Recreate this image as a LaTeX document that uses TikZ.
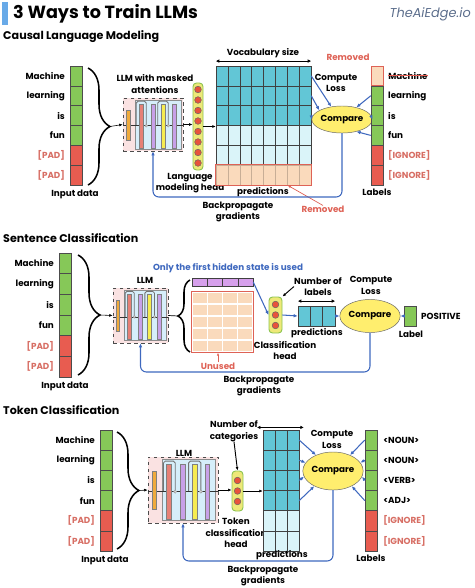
\documentclass[tikz,border=0pt]{standalone}
\usepackage{fontspec}
\setmainfont{Poppins}
\usepackage{tikz}
\usetikzlibrary{positioning,shapes.geometric,arrows.meta,decorations.pathreplacing}

\definecolor{cgreen}{RGB}{134,200,88}
\definecolor{cred}{RGB}{232,92,80}
\definecolor{cpadtxt}{RGB}{215,110,100}
\definecolor{ccyan}{RGB}{98,198,214}
\definecolor{clcyan}{RGB}{218,244,249}
\definecolor{cpeach}{RGB}{250,218,188}
\definecolor{cpeachline}{RGB}{222,98,86}
\definecolor{cpurple}{RGB}{214,160,236}
\definecolor{cyellow}{RGB}{255,238,110}
\definecolor{cblue}{RGB}{62,104,190}
\definecolor{cpink}{RGB}{250,226,226}
\definecolor{cinner}{RGB}{214,238,250}
\definecolor{cbarorange}{RGB}{240,170,60}
\definecolor{cbarred}{RGB}{230,128,118}
\definecolor{cbarpurple}{RGB}{200,160,232}
\definecolor{cbaryellow}{RGB}{246,236,80}
\definecolor{chead}{RGB}{238,232,120}
\definecolor{cheadline}{RGB}{140,196,80}
\definecolor{cneuron}{RGB}{232,82,60}
\definecolor{ctitlebar}{RGB}{104,170,232}
\definecolor{cbrand}{RGB}{92,110,140}

% inside of an LLM block, drawn in a 60 x 53 box
\newcommand{\llminside}{%
  \draw[draw=black!45,fill=cinner] (12,2) rectangle (58,51);
  \draw[draw=black!55,line width=0.7pt,rounded corners=1.5pt] (13.5,28) -- (13.5,3.5) -- (23.5,3.5) -- (23.5,28);
  \draw[draw=black!55,line width=0.7pt,rounded corners=1.5pt] (35,28) -- (35,3.5) -- (45.5,3.5) -- (45.5,28);
  \draw[black!80,line width=0.5pt] (0,28) -- (60,28);
  \draw[fill=cbarorange,draw=black!50] (3.5,12) rectangle (7.5,42);
  \draw[fill=cbarred,draw=black!50] (16,6) rectangle (20,50);
  \draw[fill=cbarpurple,draw=black!50] (28,6) rectangle (32,50);
  \draw[fill=cbaryellow,draw=black!50] (38,6) rectangle (42,50);
  \draw[fill=cbarpurple,draw=black!50] (49,6) rectangle (53,50);
  \filldraw[fill=black!15,draw=black!40] (23.5,28) circle (1.3);
  \filldraw[fill=black!15,draw=black!40] (45.5,28) circle (1.3);
}

\begin{document}
\begin{tikzpicture}[x=0.03cm,y=-0.03cm,
    every node/.style={font=\bfseries\fontsize{7.5}{10}\selectfont,inner sep=0pt},
    tokg/.style={rectangle,draw=black!70,fill=cgreen,minimum width=0.36cm,minimum height=0.6cm},
    tokr/.style={tokg,fill=cred},
    tokrm/.style={tokg,fill=cpeach,draw=cpeachline,line width=0.8pt},
    word/.style={anchor=east},
    padword/.style={anchor=east,text=cpadtxt},
    lword/.style={anchor=west},
    lpad/.style={anchor=west,text=cpadtxt},
    cell/.style={rectangle,draw=black!75,minimum width=0.356cm,minimum height=0.595cm},
    llmbox/.style={rectangle,draw=black!70,dashed,fill=cpink},
    headbox/.style={rectangle,rounded corners=3pt,draw=cheadline,line width=0.8pt,fill=chead},
    neuron/.style={circle,draw=black!60,fill=cneuron,minimum size=0.2cm},
    cmpnode/.style={ellipse,draw=black!60,fill=cyellow},
    flow/.style={-{Latex[length=3pt,width=2.5pt]},line width=0.5pt},
    dbl/.style={{Latex[length=3pt,width=3pt]}-{Latex[length=3pt,width=3pt]},line width=0.7pt},
    bluearrow/.style={-{Latex[length=3.5pt,width=3pt]},draw=cblue,line width=0.9pt},
    backarrow/.style={bluearrow,rounded corners=5pt},
    curly/.style={decorate,decoration={brace,amplitude=0.66cm},line width=1.3pt},
    heading/.style={anchor=west,font=\bfseries\fontsize{9.5}{11}\selectfont}
  ]
\useasboundingbox (0,0) rectangle (474,588);

% title
\node[fill=ctitlebar,minimum width=0.18cm,minimum height=0.66cm] (bar) at (5,13.5) {};
\node[anchor=west,font=\bfseries\fontsize{15}{18}\selectfont] (title) at (13,13.5) {3 Ways to Train LLMs};
\node[anchor=east,text=cbrand,font=\itshape\fontsize{11}{13}\selectfont] (brand) at (471,14) {TheAiEdge.io};

%%%%%%%% Causal Language Modeling
\node[heading] (h1) at (3,37) {Causal Language Modeling};
\foreach \i/\st in {1/tokg,2/tokg,3/tokg,4/tokg,5/tokr,6/tokr}
  \node[\st,minimum height=0.595cm] (a\i) at (76,{66+19.83*(\i-0.5)}) {};
\foreach \i/\w/\st in {1/Machine/word,2/learning/word,3/is/word,4/fun/word,5/[PAD]/padword,6/[PAD]/padword}
  \node[\st] (aw\i) at ([xshift=-4pt]a\i.west) {\w};
\node (ain) at (75,194) {Input data};
\draw[curly] (88,68) -- (88,185);
\coordinate (atip) at (110,126.5);

\node[llmbox,minimum width=1.8cm,minimum height=1.59cm] (llm1) at (153,124.5) {};
\begin{scope}[shift={(llm1.north west)}]
  \llminside
\end{scope}
\node[align=center] (llmlab1) at (155,84) {LLM with masked\\attentions};
\draw[flow] (atip) -- (llm1.west);

\node[headbox,minimum width=0.3cm,minimum height=2.61cm] (hd1) at (198,126.5) {};
\foreach \i in {1,...,8}
  \node[neuron] (hn1\i) at (198,{89.5+10.5*(\i-1)}) {};
\node[align=center] (hdlab1) at (190,183) {Language\\modeling head};

\foreach \r/\col/\ln in {1/ccyan/black!75,2/ccyan/black!75,3/ccyan/black!75,4/clcyan/black!75,5/clcyan/black!75,6/cpeach/cpeach!80!black}
  \foreach \c in {1,...,8}
  {
    \pgfmathtruncatemacro{\cellid}{\r*10+\c}
    \node[cell,fill=\col,draw=\ln] (v\cellid) at ({216+11.875*(\c-0.5)},{66+19.83*(\r-0.5)}) {};
  }
\draw[cpeachline,line width=0.9pt] (v61.north west) rectangle (v68.south east);
\draw[dbl] ([yshift=4pt]v11.north west) -- ([yshift=4pt]v18.north east);
\node (vs) at (263,53) {Vocabulary size};
\node (pr1) at (263,192) {predictions};
\draw[flow] (llm1.east) -- (llm1.east -| hd1.west);
\draw[flow] (hd1.east) -- (hd1.east -| v41.west);
\node[text=cpeachline] (rm1) at (323,209) {Removed};
\draw[-{Latex[length=3pt]},cpeachline,line width=0.6pt] (rm1.north) -- (v66.south east);

\node[cmpnode,minimum width=1.23cm,minimum height=0.81cm] (cmp1) at (342,119.5) {Compare};
\node[align=center] (cl1) at (336,83) {Compute\\Loss};
\draw[bluearrow] (v18.east) -- (cmp1.130);
\draw[bluearrow] (v28.east) -- (cmp1.158);
\draw[bluearrow] (v38.east) -- (cmp1.west);

\foreach \i/\st in {1/tokrm,2/tokg,3/tokg,4/tokg,5/tokr,6/tokr}
  \node[\st,minimum height=0.595cm] (l\i) at (377,{66+19.83*(\i-0.5)}) {};
\foreach \i/\w/\st in {1/Machine/lword,2/learning/lword,3/is/lword,4/fun/lword,5/[IGNORE]/lpad,6/[IGNORE]/lpad}
  \node[\st] (lw\i) at ([xshift=4pt]l\i.east) {\w};
\draw[cred,line width=0.8pt] (lw1.west) -- (lw1.east);
\node[text=cpeachline] (rm0) at (348,57) {Removed};
\node (lb1) at (377,192) {Labels};
\draw[bluearrow] (l2.west) -- (cmp1.40);
\draw[bluearrow] (l3.west) -- (cmp1.east);
\draw[bluearrow] (l4.west) -- (cmp1.-40);

\coordinate (bp1) at (0,197);
\draw[backarrow] (cmp1.south) |- (bp1 -| llm1.south) -- (llm1.south);
\node[align=center] (bpt1) at (238,212) {Backpropagate\\gradients};

%%%%%%%% Sentence Classification
\node[heading] (h2) at (3,238) {Sentence Classification};
\foreach \i/\st in {1/tokg,2/tokg,3/tokg,4/tokg,5/tokr,6/tokr}
  \node[\st,minimum height=0.62cm] (b\i) at (65,{253+20.67*(\i-0.5)}) {};
\foreach \i/\w/\st in {1/Machine/word,2/learning/word,3/is/word,4/fun/word,5/[PAD]/padword,6/[PAD]/padword}
  \node[\st] (bw\i) at ([xshift=-4pt]b\i.west) {\w};
\node (bin) at (65,386) {Input data};
\draw[curly] (78,255) -- (78,375);
\coordinate (btip) at (100,315);

\node[llmbox,minimum width=1.65cm,minimum height=1.65cm] (llm2) at (140.5,315.5) {};
\begin{scope}[shift={(llm2.north west)},xscale=0.917,yscale=1.038]
  \llminside
\end{scope}
\node (llmlab2) at (145,280) {LLM};
\draw[flow] (btip) -- (llm2.west);

\draw[curly,decoration={brace,amplitude=0.36cm}] (190,352) -- (190,280);
\coordinate (bhtip) at (178,316);
\draw[line width=0.6pt] (llm2.east) -- (bhtip);

\foreach \c in {1,...,4}
  \node[cell,fill=cpurple,minimum width=0.4575cm,minimum height=0.24cm] (hs\c) at ({192+15.25*(\c-0.5)},282) {};
\foreach \r in {1,...,5}
  \foreach \c in {1,...,4}
  {
    \pgfmathtruncatemacro{\cellid}{\r*10+\c}
    \node[cell,fill=cpeach,draw=white,line width=1pt,minimum width=0.4575cm,minimum height=0.36cm] (u\cellid) at ({192+15.25*(\c-0.5)},{292+12*(\r-0.5)}) {};
  }
\draw[cpeachline,line width=0.9pt] (u11.north west) rectangle (u54.south east);
\node[text=cblue] (only) at (228,268) {Only the first hidden state is used};
\node[text=cpeachline] (unu) at (218,366) {Unused};
\draw[-{Latex[length=2.5pt]},cpeachline,line width=0.6pt] (unu.north) -- (unu.north |- u54.south);

\node[headbox,minimum width=0.39cm,minimum height=1.08cm] (hd2) at (275.5,315) {};
\foreach \i in {1,2,3}
  \node[neuron] (hn2\i) at (275.5,{304.5+10.5*(\i-1)}) {};
\node[align=center] (hdlab2) at (285,350.5) {Classification\\head};
\draw[bluearrow] (hs4.east) -- (hd2.west);
\node[align=center] (nl) at (318,286.5) {Number of\\labels};
\draw[flow,line width=0.8pt] (nl.west) -- (hd2.north east);

\foreach \c in {1,2,3}
  \node[cell,fill=ccyan,minimum width=0.37cm,minimum height=0.6cm] (p2\c) at ({298+12.33*(\c-0.5)},316) {};
\draw[dbl] ([yshift=4pt]p21.north west) -- ([yshift=4pt]p23.north east);
\draw[bluearrow] (hd2.east) -- (p21.west);
\node (pr2) at (317,333) {predictions};

\node[cmpnode,minimum width=1.26cm,minimum height=0.99cm] (cmp2) at (370,316) {Compare};
\node[align=center] (cl2) at (371,285.5) {Compute\\Loss};
\draw[bluearrow] (p23.east) -- (cmp2.west);
\node[tokg] (lab2) at (410,316) {};
\draw[bluearrow] (lab2.west) -- (cmp2.east);
\node[anchor=west] (pos) at (421,316) {POSITIVE};
\node (lbl2) at (411,334) {Label};

\coordinate (bp2) at (0,372);
\draw[backarrow] (cmp2.south) |- (bp2 -| llm2.south) -- (llm2.south);
\node[align=center] (bpt2) at (259,386) {Backpropagate\\gradients};

%%%%%%%% Token Classification
\node[heading] (h3) at (3,410) {Token Classification};
\foreach \i/\st in {1/tokg,2/tokg,3/tokg,4/tokg,5/tokr,6/tokr}
  \node[\st,minimum height=0.605cm] (c\i) at (106,{430+20.17*(\i-0.5)}) {};
\foreach \i/\w/\st in {1/Machine/word,2/learning/word,3/is/word,4/fun/word,5/[PAD]/padword,6/[PAD]/padword}
  \node[\st] (cw\i) at ([xshift=-4pt]c\i.west) {\w};
\node (cin) at (105,560) {Input data};
\draw[curly] (117,432) -- (117,549);
\coordinate (ctip) at (139,490.5);

\node[llmbox,minimum width=2.1cm,minimum height=1.98cm] (llm3) at (183,490) {};
\begin{scope}[shift={(llm3.north west)},xscale=1.167,yscale=1.245]
  \llminside
\end{scope}
\node (llmlab3) at (184,453) {LLM};
\draw[flow] (ctip) -- (llm3.west);

\node[headbox,minimum width=0.33cm,minimum height=1.2cm] (hd3) at (237.5,491) {};
\foreach \i in {1,2,3}
  \node[neuron] (hn3\i) at (237.5,{480.5+10.5*(\i-1)}) {};
\node[align=center] (hdlab3) at (236,533) {Token\\classification\\head};
\node[align=center] (nc) at (234,431) {Number of\\categories};
\draw[flow,line width=0.8pt] (nc.south) -- (hd3.north);

\foreach \r/\col in {1/ccyan,2/ccyan,3/ccyan,4/ccyan,5/clcyan,6/clcyan}
  \foreach \c in {1,2,3}
    \node[cell,fill=\col,minimum width=0.36cm,minimum height=0.605cm] (t\r\c) at ({263+12*(\c-0.5)},{430+20.17*(\r-0.5)}) {};
\draw[dbl] ([xshift=-5pt,yshift=2pt]t11.north west) -- ([xshift=4pt,yshift=2pt]t13.north east);
\draw[flow] (llm3.east) -- (llm3.east -| hd3.west);
\draw[flow] (hd3.east) -- (hd3.east -| t11.west);
\node (pr3) at (282,555) {predictions};

\node[cmpnode,minimum width=1.2cm,minimum height=1.14cm] (cmp3) at (333,471) {Compare};
\node[align=center] (cl3) at (332,439.5) {Compute\\Loss};
\draw[bluearrow] (t13.east) -- (cmp3.137);
\draw[bluearrow] (t23.east) -- (cmp3.163);
\draw[bluearrow] (t33.east) -- (cmp3.191);
\draw[bluearrow] (t43.east) -- (cmp3.219);

\foreach \i/\st in {1/tokg,2/tokg,3/tokg,4/tokg,5/tokr,6/tokr}
  \node[\st,minimum height=0.605cm] (m\i) at (371,{430+20.17*(\i-0.5)}) {};
\foreach \i/\w/\st in {1/<NOUN>/lword,2/<NOUN>/lword,3/<VERB>/lword,4/<ADJ>/lword,5/[IGNORE]/lpad,6/[IGNORE]/lpad}
  \node[\st] (mw\i) at ([xshift=5pt]m\i.east) {\w};
\node (lb3) at (371,558) {Labels};
\draw[bluearrow] (m1.west) -- (cmp3.43);
\draw[bluearrow] (m2.west) -- (cmp3.17);
\draw[bluearrow] (m3.west) -- (cmp3.-11);
\draw[bluearrow] (m4.west) -- (cmp3.-39);

\coordinate (bp3) at (0,561);
\draw[backarrow] (cmp3.south) |- (bp3 -| llm3.south) -- (llm3.south);
\node[align=center] (bpt3) at (263,576) {Backpropagate\\gradients};

\end{tikzpicture}
\end{document}
